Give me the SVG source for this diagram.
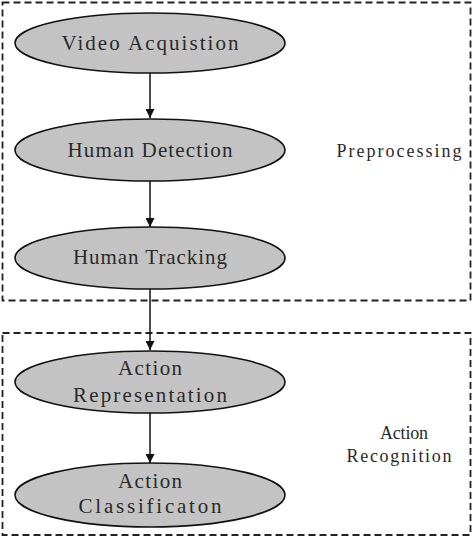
<svg xmlns="http://www.w3.org/2000/svg" width="474" height="540" viewBox="0 0 474 540">
<defs>
<style>
.frame{fill:none;stroke:#222;stroke-width:1.8;stroke-dasharray:7 4}
.node ellipse{fill:#c3c3c3;stroke:#111;stroke-width:1.6}
.lbl{font-family:"Liberation Serif","DejaVu Serif",serif;font-size:21px;fill:#2a2a2a;text-anchor:middle}
.side{font-family:"Liberation Serif","DejaVu Serif",serif;font-size:18px;fill:#2a2a2a;text-anchor:middle}
.edge{stroke:#111;stroke-width:1.5;fill:none;marker-end:url(#arr)}
</style>
<marker id="arr" viewBox="0 0 10 10" refX="10" refY="5" markerWidth="9" markerHeight="9" markerUnits="userSpaceOnUse" orient="auto">
<path d="M0,0 L10,5 L0,10 z" fill="#111"/>
</marker>
</defs>
<rect width="474" height="540" fill="#fff"/>
<g id="group-preprocessing">
<rect class="frame" x="2.5" y="2.5" width="468" height="298"/>
<text class="side" x="399" y="157" textLength="125" lengthAdjust="spacing">Preprocessing</text>
</g>
<g id="group-action-recognition">
<rect class="frame" x="2.5" y="333" width="468" height="202"/>
<text class="side" x="404" y="439" textLength="48" lengthAdjust="spacing">Action</text>
<text class="side" x="399" y="462" textLength="105" lengthAdjust="spacing">Recognition</text>
</g>
<g id="connectors">
<line class="edge" x1="150" y1="73" x2="150" y2="118"/>
<line class="edge" x1="150" y1="181" x2="150" y2="227"/>
<line class="edge" x1="150" y1="289" x2="150" y2="350"/>
<line class="edge" x1="150" y1="413" x2="150" y2="463"/>
</g>
<g id="video-acquisition" class="node">
<ellipse cx="150" cy="43" rx="135" ry="30"/>
<text class="lbl" x="150" y="50" textLength="177" lengthAdjust="spacing">Video Acquistion</text>
</g>
<g id="human-detection" class="node">
<ellipse cx="150" cy="150" rx="135" ry="31"/>
<text class="lbl" x="150" y="157" textLength="165" lengthAdjust="spacing">Human Detection</text>
</g>
<g id="human-tracking" class="node">
<ellipse cx="150" cy="258" rx="135" ry="31"/>
<text class="lbl" x="150" y="264" textLength="154" lengthAdjust="spacing">Human Tracking</text>
</g>
<g id="action-representation" class="node">
<ellipse cx="150" cy="382" rx="135" ry="31"/>
<text class="lbl" x="150" y="375" textLength="64" lengthAdjust="spacing">Action</text>
<text class="lbl" x="150" y="402" textLength="154" lengthAdjust="spacing">Representation</text>
</g>
<g id="action-classification" class="node">
<ellipse cx="150" cy="495" rx="135" ry="32"/>
<text class="lbl" x="150" y="488" textLength="64" lengthAdjust="spacing">Action</text>
<text class="lbl" x="150" y="513" textLength="143" lengthAdjust="spacing">Classificaton</text>
</g>
</svg>
